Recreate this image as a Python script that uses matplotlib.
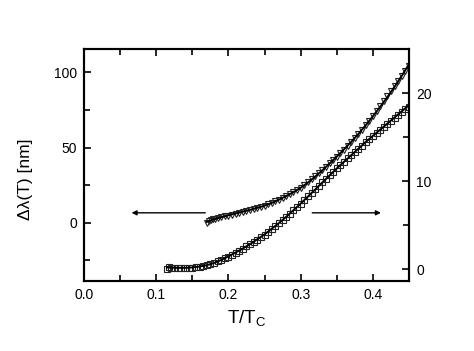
import numpy as np
import matplotlib.pyplot as plt
from matplotlib.ticker import MultipleLocator

plt.rcParams['font.family'] = ['Liberation Sans', 'DejaVu Sans']

# penetration depth data (left axis), triangles
t_lam = [0.170, 0.173, 0.176, 0.179, 0.182, 0.185, 0.190, 0.195, 0.200, 0.205, 0.210, 0.215,
         0.220, 0.225, 0.230, 0.235, 0.240, 0.245, 0.250, 0.255, 0.260, 0.265,
         0.270, 0.275, 0.280, 0.285, 0.290, 0.295, 0.300, 0.305, 0.310, 0.315,
         0.320, 0.325, 0.330, 0.335, 0.340, 0.345, 0.350, 0.355, 0.360, 0.365,
         0.370, 0.375, 0.380, 0.385, 0.390, 0.395, 0.400, 0.405, 0.410, 0.415,
         0.420, 0.425, 0.430, 0.435, 0.440, 0.445, 0.450]
lam = [0.0, 0.9, 1.6, 2.1, 2.5, 2.9, 3.5, 4.1, 4.7, 5.3, 5.9, 6.5,
       7.1, 7.7, 8.3, 9.0, 9.7, 10.4, 11.2, 12.1, 13.1, 14.2,
       15.3, 16.4, 17.6, 18.9, 20.2, 21.6, 23.0, 24.8, 26.7, 28.7,
       30.8, 32.9, 35.0, 37.2, 39.4, 41.6, 43.8, 46.1, 48.5, 50.9,
       53.4, 56.1, 58.9, 61.8, 64.8, 67.9, 71.0, 74.2, 77.4, 80.7,
       84.0, 87.4, 90.8, 94.2, 97.6, 101.0, 104.3]

# fit through the left-axis data
t_lam_fit = [0.17, 0.18, 0.19, 0.20, 0.21, 0.22, 0.23, 0.24, 0.25, 0.26,
             0.27, 0.28, 0.29, 0.30, 0.31, 0.32, 0.33, 0.34, 0.35, 0.36,
             0.37, 0.38, 0.39, 0.40, 0.41, 0.42, 0.43, 0.44, 0.45]
lam_fit = [0.5, 2.2, 3.6, 4.9, 6.1, 7.3, 8.5, 9.8, 11.3, 13.1,
           15.3, 17.7, 20.3, 23.2, 26.6, 30.6, 34.8, 39.3, 44.0, 48.8,
           53.8, 59.1, 64.8, 70.8, 77.1, 83.6, 90.5, 97.8, 105.5]

# right-axis data, squares
t_sq = [0.115, 0.118, 0.120, 0.125, 0.130, 0.135, 0.140, 0.145, 0.150, 0.155, 0.160,
        0.165, 0.170, 0.175, 0.180, 0.185, 0.190, 0.195, 0.200, 0.205, 0.210,
        0.215, 0.220, 0.225, 0.230, 0.235, 0.240, 0.245, 0.250, 0.255, 0.260,
        0.265, 0.270, 0.275, 0.280, 0.285, 0.290, 0.295, 0.300, 0.305, 0.310,
        0.315, 0.320, 0.325, 0.330, 0.335, 0.340, 0.345, 0.350, 0.355, 0.360,
        0.365, 0.370, 0.375, 0.380, 0.385, 0.390, 0.395, 0.400, 0.405, 0.410,
        0.415, 0.420, 0.425, 0.430, 0.435, 0.440, 0.445, 0.450]
sq = [0.05, 0.20, 0.15, 0.12, 0.10, 0.10, 0.12, 0.15, 0.18, 0.22, 0.27,
      0.35, 0.45, 0.58, 0.72, 0.88, 1.05, 1.24, 1.44, 1.65, 1.87,
      2.10, 2.34, 2.58, 2.83, 3.09, 3.36, 3.64, 3.93, 4.24, 4.55,
      4.87, 5.20, 5.54, 5.90, 6.28, 6.67, 7.06, 7.45, 7.86, 8.27,
      8.68, 9.09, 9.49, 9.89, 10.29, 10.69, 11.08, 11.46, 11.84, 12.21,
      12.58, 12.95, 13.32, 13.69, 14.05, 14.41, 14.77, 15.12, 15.47, 15.81,
      16.15, 16.49, 16.83, 17.17, 17.50, 17.83, 18.16, 18.48]

t_sq_fit = [0.115, 0.13, 0.14, 0.15, 0.16, 0.17, 0.18, 0.19, 0.20, 0.21,
            0.22, 0.23, 0.24, 0.25, 0.26, 0.27, 0.28, 0.29, 0.30, 0.31,
            0.32, 0.33, 0.34, 0.35, 0.36, 0.37, 0.38, 0.39, 0.40, 0.41,
            0.42, 0.43, 0.44, 0.45]
sq_fit = [0.2, 0.15, 0.15, 0.2, 0.3, 0.45, 0.7, 1.05, 1.45, 1.9,
          2.35, 2.85, 3.4, 3.95, 4.6, 5.25, 5.95, 6.7, 7.45, 8.25,
          9.05, 9.85, 10.65, 11.45, 12.2, 12.95, 13.7, 14.45, 15.15, 15.85,
          16.55, 17.25, 17.95, 18.65]

fig = plt.figure(figsize=(4.74, 3.51), dpi=100)
ax = fig.add_axes([0.177, 0.199, 0.686, 0.661])
ax2 = ax.twinx()

ax.plot(t_lam, lam, linestyle='none', marker='v', markersize=4.3,
        markerfacecolor='none', markeredgecolor='#222222', markeredgewidth=0.8)
ax.plot(t_lam_fit, lam_fit, color='black', lw=1.4)

ax2.plot(t_sq, sq, linestyle='none', marker='s', markersize=3.8,
         markerfacecolor='none', markeredgecolor='#222222', markeredgewidth=0.8)
ax2.plot(t_sq_fit, sq_fit, color='black', lw=1.4)

ax.set_xlim(0, 0.45)
ax.set_ylim(-39, 115.5)
ax2.set_ylim(-1.36, 25)

ax.xaxis.set_major_locator(MultipleLocator(0.1))
ax.xaxis.set_minor_locator(MultipleLocator(0.05))
ax.yaxis.set_major_locator(MultipleLocator(50))
ax.yaxis.set_minor_locator(MultipleLocator(25))
ax2.yaxis.set_major_locator(MultipleLocator(10))
ax2.yaxis.set_minor_locator(MultipleLocator(5))

for a in (ax, ax2):
    for s in a.spines.values():
        s.set_linewidth(1.5)
ax.tick_params(which='both', direction='in', top=True, right=False, labelsize=10, width=1.2, pad=5)
ax.tick_params(which='major', length=5)
ax.tick_params(which='minor', length=4)
ax2.tick_params(which='both', direction='in', labelsize=10, width=1.2, pad=5)
ax2.tick_params(which='major', length=5)
ax2.tick_params(which='minor', length=4)
ax.xaxis.set_major_formatter(plt.FuncFormatter(lambda v, p: '%.1f' % v))

ax.set_xlabel('T/T$_\\mathregular{C}$', fontsize=13.5, labelpad=5)
ax.set_ylabel('Δλ(T) [nm]', fontsize=12.5)
ax.yaxis.set_label_coords(-0.155, 0.44)

ax.annotate('', xy=(0.066, 6.5), xytext=(0.168, 6.5),
            arrowprops=dict(arrowstyle='-|>', color='black', lw=1.0,
                            mutation_scale=7, shrinkA=0, shrinkB=0))
ax.annotate('', xy=(0.411, 6.5), xytext=(0.316, 6.5),
            arrowprops=dict(arrowstyle='-|>', color='black', lw=1.0,
                            mutation_scale=7, shrinkA=0, shrinkB=0))

fig.savefig('out.png', dpi=100)
